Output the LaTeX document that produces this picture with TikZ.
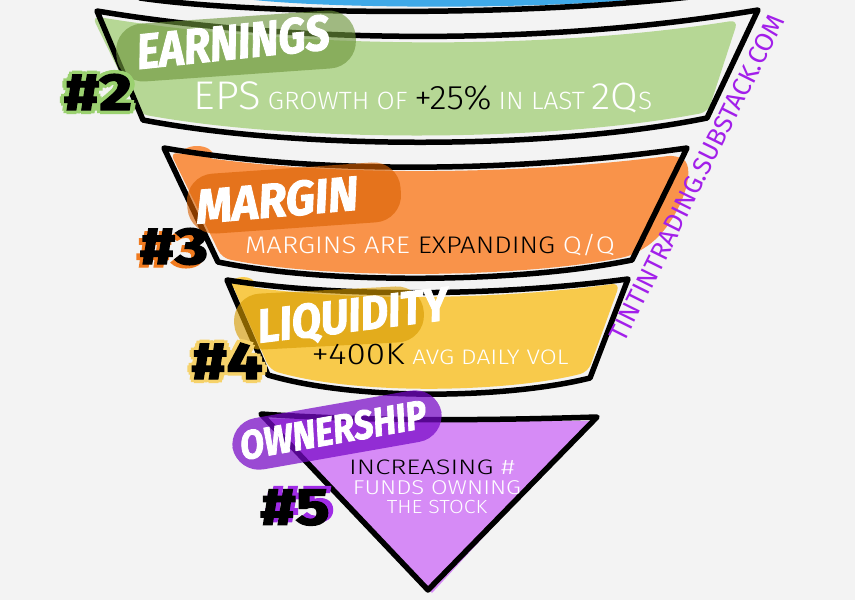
\documentclass[tikz,border=0pt]{standalone}
\usepackage{fontspec}
\setmainfont{Fira Sans Light}
\newfontfamily\brush{Fira Sans}[BoldFeatures={FakeBold=2.5},BoldItalicFeatures={FakeBold=2}]
\definecolor{bg}{HTML}{F3F3F3}
\definecolor{gfill}{HTML}{B6D795}
\definecolor{gdark}{HTML}{6E963C}
\definecolor{ghalo}{HTML}{9BD170}
\definecolor{ofill}{HTML}{F9934A}
\definecolor{odark}{HTML}{D96000}
\definecolor{ohalo}{HTML}{F07A1E}
\definecolor{yfill}{HTML}{F8CA4B}
\definecolor{ydark}{HTML}{D79B00}
\definecolor{yhalo}{HTML}{F6D26A}
\definecolor{pfill}{HTML}{D68BF6}
\definecolor{pdark}{HTML}{780AC8}
\definecolor{phalo}{HTML}{A02BE6}
\definecolor{wmc}{HTML}{A21FEA}
\definecolor{bluef}{HTML}{3FA9E8}
% a copy of #1 shifted by (#2,#3), taking no width
\newcommand{\hcopy}[3]{\makebox[0pt][l]{\hspace*{#2}\raisebox{#3}{#1}}}
% number with a coloured halo all round
\newcommand{\numhalo}[2]{\scalebox{1.22}[1]{{\color{#1}\hcopy{#2}{4pt}{0pt}\hcopy{#2}{-3.5pt}{0pt}\hcopy{#2}{0pt}{3.5pt}\hcopy{#2}{0pt}{-3.5pt}\hcopy{#2}{2.8pt}{2.8pt}\hcopy{#2}{-2.5pt}{2.5pt}\hcopy{#2}{2.8pt}{-2.8pt}\hcopy{#2}{-2.5pt}{-2.5pt}}#2}}
% number with a coloured copy shifted by (#3,#4)
\newcommand{\numshift}[4]{\scalebox{1.22}[1]{{\color{#1}\hcopy{#2}{#3}{#4}}#2}}
\begin{document}
\begin{tikzpicture}[x=1pt,y=-1pt,
  outl/.style={draw=black,line width=5.5pt,line join=round,line cap=round},
  pill/.style={rectangle,rounded corners=27pt,opacity=0.62,inner sep=0pt},
  head/.style={text=white,inner sep=0pt,font=\brush\bfseries\itshape\fontsize{43}{43}\selectfont},
  num/.style={inner sep=0pt,font=\brush\bfseries\fontsize{52}{52}\selectfont},
  body/.style={text=white,inner sep=0pt,font=\fontsize{24}{24}\selectfont},
  wmk/.style={text=wmc,inner sep=0pt,font=\brush\fontsize{26}{26}\selectfont}]
\useasboundingbox (0,0) rectangle (855,600);
\fill[bg] (0,0) rectangle (855,600);
% top blue band (cut off)
\begin{scope}
\clip (0,0) rectangle (855,600);
\fill[bluef] (220,-5) .. controls (290,11) and (590,10) .. (670,-5) -- cycle;
\draw[outl] (140,-2) .. controls (250,14) and (500,18) .. (690,-3);
\end{scope}
% fills
\fill[gfill,rounded corners=8pt] (92,16) .. controls (300,50) and (550,50) .. (738,20) -- (708,112) .. controls (550,142) and (300,143) .. (140,114) -- cycle;
\fill[ofill,rounded corners=8pt] (170,152) .. controls (320,178) and (520,175) .. (676,155) .. controls (698,168) and (680,220) .. (645,248) -- (630,256) .. controls (520,278) and (330,280) .. (222,258) -- cycle;
\fill[ofill] (197,155) ellipse [x radius=16, y radius=9];
\fill[yfill,rounded corners=8pt] (232,284) .. controls (340,302) and (500,300) .. (620,283) -- (588,372) .. controls (510,392) and (360,396) .. (270,370) -- cycle;
\fill[yfill] (243,284) ellipse [x radius=12, y radius=7];
\fill[pfill] (268,419) -- (590,421) -- (432,593) -- cycle;
% outlines
\draw[outl] (97,11) .. controls (300,45) and (550,45) .. (758,10) -- (707,118) .. controls (550,150) and (300,150) .. (143,120) -- cycle;
\draw[outl] (164,148) .. controls (320,175) and (520,172) .. (687,148) -- (632,260) .. controls (520,283) and (330,285) .. (218,262) -- cycle;
\draw[outl] (227,280) .. controls (340,298) and (500,296) .. (628,279) -- (590,378) .. controls (510,398) and (360,402) .. (268,375) -- cycle;
\draw[outl] (261,414) .. controls (380,422) and (500,420) .. (597,417) -- (428,590) -- cycle;
% pills
\node[pill,fill=gdark,minimum width=240pt,minimum height=58pt,rotate=4] (pe) at (236,46) {};
\node[pill,fill=odark,minimum width=214pt,minimum height=60pt,rotate=4] (pm) at (294,198) {};
\node[pill,fill=ydark,minimum width=190pt,minimum height=56pt,rotate=3] (pl) at (329,318) {};
\node[pill,fill=pdark,minimum width=212pt,minimum height=52pt,rotate=10,opacity=0.72] (po) at (337,430) {};
% headings
\node[head,rotate=6] (he) at (233,42) {\scalebox{1}[1.15]{EARNINGS}};
\node[head,rotate=5,font=\brush\bfseries\itshape\fontsize{46}{46}\selectfont] (hm) at (277,200) {\scalebox{1}[1.05]{MARGIN}};
\node[head,rotate=7] (hl) at (353,318) {\scalebox{1}[1.1]{LIQUIDITY}};
\node[head,rotate=10,font=\brush\bfseries\itshape\fontsize{35}{35}\selectfont] (ho) at (333,430) {\scalebox{1}[1.15]{OWNERSHIP}};
% numbers with halos
\node[num] (n2) at (98,92) {\numhalo{ghalo}{\#2}};
\node[num] (n3) at (174,248) {\numshift{ohalo}{\#3}{-3pt}{-3pt}};
\node[num] (n4) at (227,361) {\numhalo{yhalo}{\#4}};
\node[num] (n5) at (295,506) {\numshift{phalo}{\#5}{4pt}{3pt}};
% body texts
\node[body] (t2) at (423,97) {\scalebox{1.05}[1]{{\fontsize{40}{40}\selectfont EPS} {\fontsize{25}{25}\selectfont GROWTH OF} {\color{black}\fontsize{34}{34}\selectfont +25\%} {\fontsize{25}{25}\selectfont IN LAST} {\fontsize{38}{38}\selectfont 2Q}{\fontsize{25}{25}\selectfont S}}};
\node[body] (t3) at (430,245) {\scalebox{1.15}[1]{MARGINS ARE {\color{black}EXPANDING} Q/Q}};
\node[body] (t4) at (440,354) {\scalebox{1.17}[1]{{\color{black}\fontsize{30}{30}\selectfont +400K} {\fontsize{21}{21}\selectfont AVG DAILY VOL}}};
\node[body,font=\fontsize{21}{21}\selectfont] (t5a) at (432,467) {\scalebox{1.3}[1]{{\color{black}INCREASING} \#}};
\node[body,font=\fontsize{20}{20}\selectfont] (t5b) at (437,488) {\scalebox{1.2}[1]{FUNDS OWNING}};
\node[body,font=\fontsize{19}{19}\selectfont] (t5c) at (437,507) {\scalebox{1.12}[1]{THE STOCK}};
% watermark
\node[wmk,rotate=63.5] (wm) at (697,178) {TINTINTRADING.SUBSTACK.COM};
\end{tikzpicture}
\end{document}
